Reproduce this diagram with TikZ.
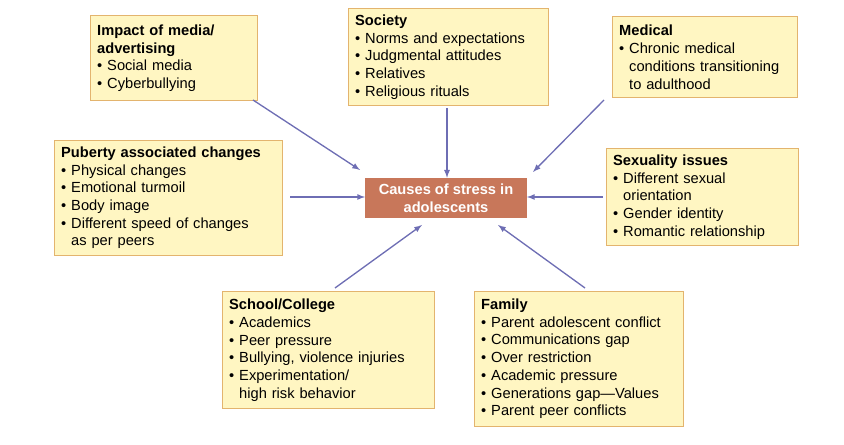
\documentclass[tikz,border=0pt]{standalone}
\usepackage{fontspec}
\setmainfont{Liberation Sans}
\usetikzlibrary{positioning}
\definecolor{boxfill}{HTML}{FFF6C2}
\definecolor{boxline}{HTML}{E3B46E}
\definecolor{hubfill}{HTML}{C8775A}
\definecolor{arrowcol}{HTML}{6E6EB4}
\newcommand{\itm}{\textbullet\ }
\begin{document}
\begin{tikzpicture}[x=0.75pt,y=-0.75pt,
  every node/.style={font=\fontsize{11}{13.3}\selectfont},
  causebox/.style={draw=boxline,fill=boxfill,line width=0.8pt,anchor=north west,
    align=left,inner xsep=5pt,inner ysep=3pt,minimum height=#1},
  causebox/.default=0pt,
  hubbox/.style={fill=hubfill,text=white,font=\fontsize{11}{13.3}\selectfont\bfseries,
    align=center,minimum width=121pt,minimum height=30pt},
  feed/.style={draw=arrowcol,line width=1pt,-latex}]
  \useasboundingbox (0,0) rectangle (844,445);

  \node[hubbox] (hub) at (446,198) {Causes of stress in\\adolescents};

  \node[causebox=64pt,text width=115pt] (media) at (90,15)
    {\textbf{Impact of media/}\\\textbf{advertising}\\\itm Social media\\\itm Cyberbullying};
  \node[causebox=73pt,text width=140pt] (society) at (348,8)
    {\textbf{Society}\\\itm Norms and expectations\\\itm Judgmental attitudes\\\itm Relatives\\\itm Religious rituals};
  \node[causebox=61pt,text width=129pt] (medical) at (612,16)
    {\textbf{Medical}\\\itm Chronic medical\\\phantom{\itm}conditions transitioning\\\phantom{\itm}to adulthood};
  \node[causebox=86pt,text width=161pt] (puberty) at (54,140)
    {\textbf{Puberty associated changes}\\\itm Physical changes\\\itm Emotional turmoil\\\itm Body image\\\itm Different speed of changes\\\phantom{\itm}as per peers};
  \node[causebox=73pt,text width=134pt] (sexual) at (606,148)
    {\textbf{Sexuality issues}\\\itm Different sexual\\\phantom{\itm}orientation\\\itm Gender identity\\\itm Romantic relationship};
  \node[causebox=88pt,text width=149pt] (school) at (222,291)
    {\textbf{School/College}\\\itm Academics\\\itm Peer pressure\\\itm Bullying, violence injuries\\\itm Experimentation/\\\phantom{\itm}high risk behavior};
  \node[causebox=101pt,text width=147pt] (family) at (474,291)
    {\textbf{Family}\\\itm Parent adolescent conflict\\\itm Communications gap\\\itm Over restriction\\\itm Academic pressure\\\itm Generations gap---Values\\\itm Parent peer conflicts};

  % connectors
  \coordinate (m1) at (253,100);
  \coordinate (s1) at (447,108);
  \coordinate (d1) at (604,100);
  \coordinate (p1) at (290,197);
  \coordinate (x1) at (603,197);
  \coordinate (c1) at (335,288);
  \coordinate (f1) at (585,288);
  \draw[feed] (m1) -- (360,170);
  \draw[feed] (s1) -- (hub.north -| s1);
  \draw[feed] (d1) -- (533,172);
  \draw[feed] (p1) -- (hub.west |- p1);
  \draw[feed] (x1) -- (hub.east |- x1);
  \draw[feed] (c1) -- (422,225);
  \draw[feed] (f1) -- (498,225);
\end{tikzpicture}
\end{document}
